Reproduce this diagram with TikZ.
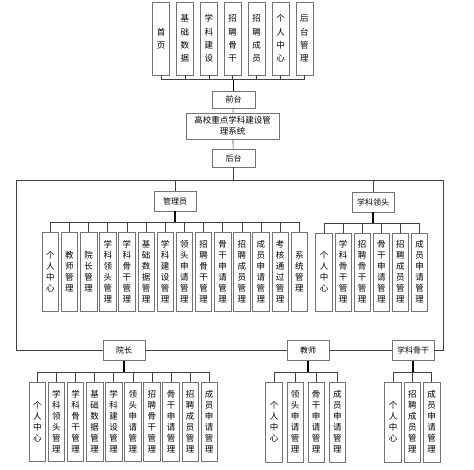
\documentclass[tikz,border=0pt]{standalone}
\usepackage{fontspec}
\setmainfont{Noto Sans CJK SC}
\usetikzlibrary{positioning}
\usetikzlibrary{calc}

\tikzset{
  box/.style={draw=black!55, fill=white, line width=0.6pt, inner sep=0pt, align=center},
  hbox/.style={box, minimum width=42pt, minimum height=20pt, font=\fontsize{8}{10}\selectfont},
  vbox/.style={box, minimum width=16.5pt, minimum height=79pt, font=\fontsize{8.5}{11}\selectfont},
  topbox/.style={box, minimum width=17pt, minimum height=73pt, font=\fontsize{8.5}{13.3}\selectfont},
  link/.style={black!75, line width=0.6pt},
  stem/.style={black, line width=1.1pt},
}

\begin{document}
\begin{tikzpicture}[x=1pt,y=-1pt]
    \useasboundingbox (0,0) rectangle (474,470);

    % front end pages
    \foreach \lbl [count=\i from 0] in {首\\页, 基\\础\\数\\据, 学\\科\\建\\设, 招\\聘\\骨\\干, 招\\聘\\成\\员, 个\\人\\中\\心, 后\\台\\管\\理}
        \node[topbox] (t\i) at (161+\i*23.9, 38.5) {\lbl};

    \node[hbox, minimum width=43pt, minimum height=17pt] (qt) at (233.5,99.5) {前台};
    \node[hbox, minimum width=93pt, minimum height=26pt, font=\fontsize{8.5}{11}\selectfont] (sys) at (232.5,126) {高校重点学科建设管\\理系统};
    \node[hbox, minimum width=43pt, minimum height=18pt] (ht) at (233.5,158) {后台};

\foreach \i in {0,...,6} {
    \draw[link] (qt.north) -- ++(0,-11) -| (t\i.south);
}
\draw[stem] (qt.north) -- ++(0,-11);
\draw[link] (qt) -- (sys);
\draw[link] (sys) -- (ht);

% roles
\node[hbox] (adm) at (175,201) {管理员};
\node[hbox] (lt) at (373,202) {学科领头};
\node[hbox] (yz) at (124,350.5) {院长};
\node[hbox] (js) at (308,350.5) {教师};
\node[hbox] (gg) at (413,350.5) {学科骨干};

% outer frame
\coordinate (fl) at (16,180);
\coordinate (fr) at (443,180);
\draw[link] (ht.south) -- (ht.south |- fl);
\draw[link] (yz.west) -| (fl) -- (fr) |- (gg.east);
\draw[link] (yz.east) -- (js.west);
\draw[link] (js.east) -- (gg.west);
\draw[link] (adm.north) -- (adm.north |- fl);
\draw[link] (lt.north) -- (lt.north |- fl);

% admin functions
\foreach \lbl [count=\i from 0] in {个\\人\\中\\心, 教\\师\\管\\理, 院\\长\\管\\理, 学\\科\\领\\头\\管\\理, 学\\科\\骨\\干\\管\\理, 基\\础\\数\\据\\管\\理, 学\\科\\建\\设\\管\\理, 领\\头\\申\\请\\管\\理, 招\\聘\\骨\\干\\管\\理, 骨\\干\\申\\请\\管\\理, 招\\聘\\成\\员\\管\\理, 成\\员\\申\\请\\管\\理, 考\\核\\通\\过\\管\\理, 系\\统\\管\\理} {
    \node[vbox] (a\i) at (50.3+\i*19.15, 271.5) {\lbl};
    \draw[link] (adm.south) -- ++(0,11) -| (a\i.north);
}
\draw[stem] (adm.south) -- ++(0,11);

% subject leader functions
\foreach \lbl [count=\i from 0] in {个\\人\\中\\心, 学\\科\\骨\\干\\管\\理, 招\\聘\\骨\\干\\管\\理, 骨\\干\\申\\请\\管\\理, 招\\聘\\成\\员\\管\\理, 成\\员\\申\\请\\管\\理} {
    \node[vbox, minimum height=78pt] (l\i) at (324+\i*19.1, 272) {\lbl};
    \draw[link] (lt.south) -- ++(0,11) -| (l\i.north);
}
\draw[stem] (lt.south) -- ++(0,11);

% dean functions
\foreach \lbl [count=\i from 0] in {个\\人\\中\\心, 学\\科\\领\\头\\管\\理, 学\\科\\骨\\干\\管\\理, 基\\础\\数\\据\\管\\理, 学\\科\\建\\设\\管\\理, 领\\头\\申\\请\\管\\理, 招\\聘\\骨\\干\\管\\理, 骨\\干\\申\\请\\管\\理, 招\\聘\\成\\员\\管\\理, 成\\员\\申\\请\\管\\理} {
    \node[vbox] (y\i) at (37.3+\i*19.1, 421.5) {\lbl};
    \draw[link] (yz.south) -- ++(0,11) -| (y\i.north);
}
\draw[stem] (yz.south) -- ++(0,11);

% teacher functions
\foreach \lbl [count=\i from 0] in {个\\人\\中\\心, 领\\头\\申\\请\\管\\理, 骨\\干\\申\\请\\管\\理, 成\\员\\申\\请\\管\\理} {
    \node[vbox, minimum height=80pt] (j\i) at (274+\i*21.1, 422) {\lbl};
    \draw[link] (js.south) -- ++(0,11) -| (j\i.north);
}
\draw[stem] (js.south) -- ++(0,11);

% backbone functions
\foreach \lbl [count=\i from 0] in {个\\人\\中\\心, 招\\聘\\成\\员\\管\\理, 成\\员\\申\\请\\管\\理} {
    \node[vbox, minimum height=80pt] (g\i) at (393+\i*19.3, 422) {\lbl};
    \draw[link] (gg.south) -- ++(0,11) -| (g\i.north);
}
\draw[stem] (gg.south) -- ++(0,11);

\end{tikzpicture}
\end{document}
